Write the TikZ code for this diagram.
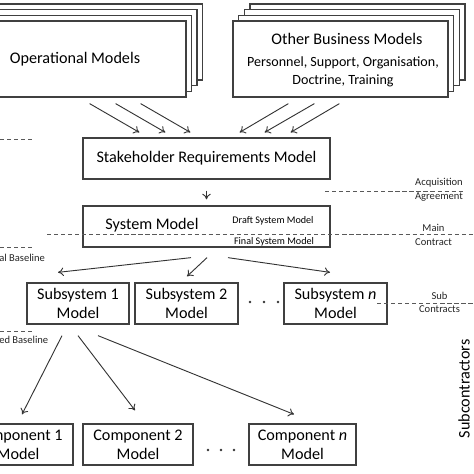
\documentclass[tikz,border=0pt]{standalone}
\usepackage{fontspec}
\setmainfont{Carlito}
\usetikzlibrary{arrows.meta}
\tikzset{
  modell/.style={draw=black!75, line width=0.9pt, inner sep=0pt, align=center, font=\fontsize{11.5}{13.5}\selectfont},
  klein/.style={font=\fontsize{7.5}{9}\selectfont, text=black!85, inner sep=0pt},
  winzig/.style={font=\fontsize{7.2}{9}\selectfont, inner sep=0pt},
  grenze/.style={draw=black!65, dash pattern=on 3pt off 2pt, line width=0.6pt},
  pfeil/.style={-{To[length=4pt,width=6pt]}, draw=black!80, line width=0.65pt}
}
\begin{document}
\begin{tikzpicture}[x=0.025cm, y=-0.025cm]
			\clip (0,0) rectangle (474,474);
			\fill[white] (0,0) rectangle (474,474);

			% Stapel Operational Models
			\foreach \k in {3,2,1}
			\node[modell, fill=white, minimum width=5.55cm, minimum height=1.9cm] (op\k) at ({75+5.5*\k},{59-5.7*\k}) {};
			\node[modell, fill=white, minimum width=5.55cm, minimum height=1.9cm] (op) at (75,59) {Operational Models};

			% Stapel Other Business Models
			\foreach \k in {3,2,1}
			\node[modell, fill=white, minimum width=5.375cm, minimum height=1.9cm] (ob\k) at ({340.5+5.7*\k},{59-5.7*\k}) {};
			\node[modell, fill=white, minimum width=5.375cm, minimum height=1.9cm] (ob) at (340.5,59) {};
			\node[modell, draw=none] (obtitel) at (347,39) {Other Business Models};
			\node[modell, draw=none, font=\fontsize{10}{12.8}\selectfont] (obliste) at (343,72) {Personnel, Support, Organisation,\\Doctrine, Training};

			% Stakeholder Requirements Model
			\node[modell, minimum width=6.175cm, minimum height=1.025cm] (srm) at (206.5,158.5) {Stakeholder Requirements Model};

			% System Model
			\node[modell, minimum width=6.175cm, minimum height=1.025cm] (sm) at (206.5,226.5) {};
			\node[modell, draw=none] (smtext) at (152,225) {System Model};
			\node[winzig] (draft) at (273,221) {Draft System Model};
			\node[winzig] (final) at (274,242) {Final System Model};

			% Subsysteme
			\node[modell, minimum width=2.55cm, minimum height=1.025cm] (ss1) at (78,303.5) {Subsystem 1\\Model};
			\node[modell, minimum width=2.575cm, minimum height=1.025cm] (ss2) at (186.5,303.5) {Subsystem 2\\Model};
			\node[modell, minimum width=2.575cm, minimum height=1.025cm] (ssn) at (335.5,303.5) {Subsystem \textit{n}\\Model};
			\foreach \x in {250,264,278}
			\fill[black!80] (\x,302) circle (1pt);

			% Komponenten
			\node[modell, minimum width=2.75cm, minimum height=1.025cm] (cp1) at (18,444.5) {Component 1\\Model};
			\node[modell, minimum width=2.75cm, minimum height=1.025cm] (cp2) at (138,444.5) {Component 2\\Model};
			\node[modell, minimum width=2.675cm, minimum height=1.025cm] (cpn) at (302.5,444.5) {Component \textit{n}\\Model};
			\foreach \x in {208,221,234}
			\fill[black!80] (\x,450) circle (1pt);

			% Pfeile
			\foreach \a/\b in {-97/57,-71/83,-46/108}
			\draw[pfeil] ([shift={(\a,6)}]op.south east) -- ([shift={(\b,-5)}]srm.north west);
			\foreach \a/\b in {56/-91,82/-66,107/-40}
			\draw[pfeil] ([shift={(\a,6)}]ob.south west) -- ([shift={(\b,-5)}]srm.north east);
			\draw[pfeil] ([shift={(0,11)}]srm.south) -- ([shift={(0,-6)}]sm.north);
			\draw[pfeil] ([shift={(-15.5,10)}]sm.south) -- ([shift={(-20,-10)}]ss1.north);
			\draw[pfeil] ([shift={(0.5,10)}]sm.south) -- ([shift={(0.5,-6)}]ss2.north);
			\draw[pfeil] ([shift={(21.5,10)}]sm.south) -- ([shift={(-5.5,-10)}]ssn.north);
			\draw[pfeil] ([shift={(-16,11)}]ss1.south) -- ([shift={(4,-9)}]cp1.north);
			\draw[pfeil] ([shift={(0,11)}]ss1.south) -- ([shift={(-3,-13)}]cp2.north);
			\draw[pfeil] ([shift={(20,11)}]ss1.south) -- ([shift={(-8.5,-9)}]cpn.north);

			% Vertragsgrenzen
			\draw[grenze] (0,139) -- (32,139);
			\draw[grenze] (0,247) -- (32,247);
			\draw[grenze] (0,331) -- (32,331);
			\draw[grenze] (325,191) -- (463,191);
			\draw[grenze] (47,234) -- (474,234);
			\draw[grenze] (377,303) -- (474,303);
			\node[klein, anchor=west] (fb) at (-1,258) {al Baseline};
			\node[klein, anchor=west] (ab) at (-1,340) {ed Baseline};
			\node[klein] (acq) at (439,183) {Acquisition};
			\node[klein] (agr) at (439,197) {Agreement};
			\node[klein] (main) at (433.5,228) {Main};
			\node[klein] (contr) at (433.5,242) {Contract};
			\node[klein] (sub) at (439.5,296) {Sub};
			\node[klein] (subcontr) at (439.5,309) {Contracts};
			\node[modell, draw=none, rotate=90] (subk) at (464,389) {Subcontractors};
		\end{tikzpicture}
\end{document}
